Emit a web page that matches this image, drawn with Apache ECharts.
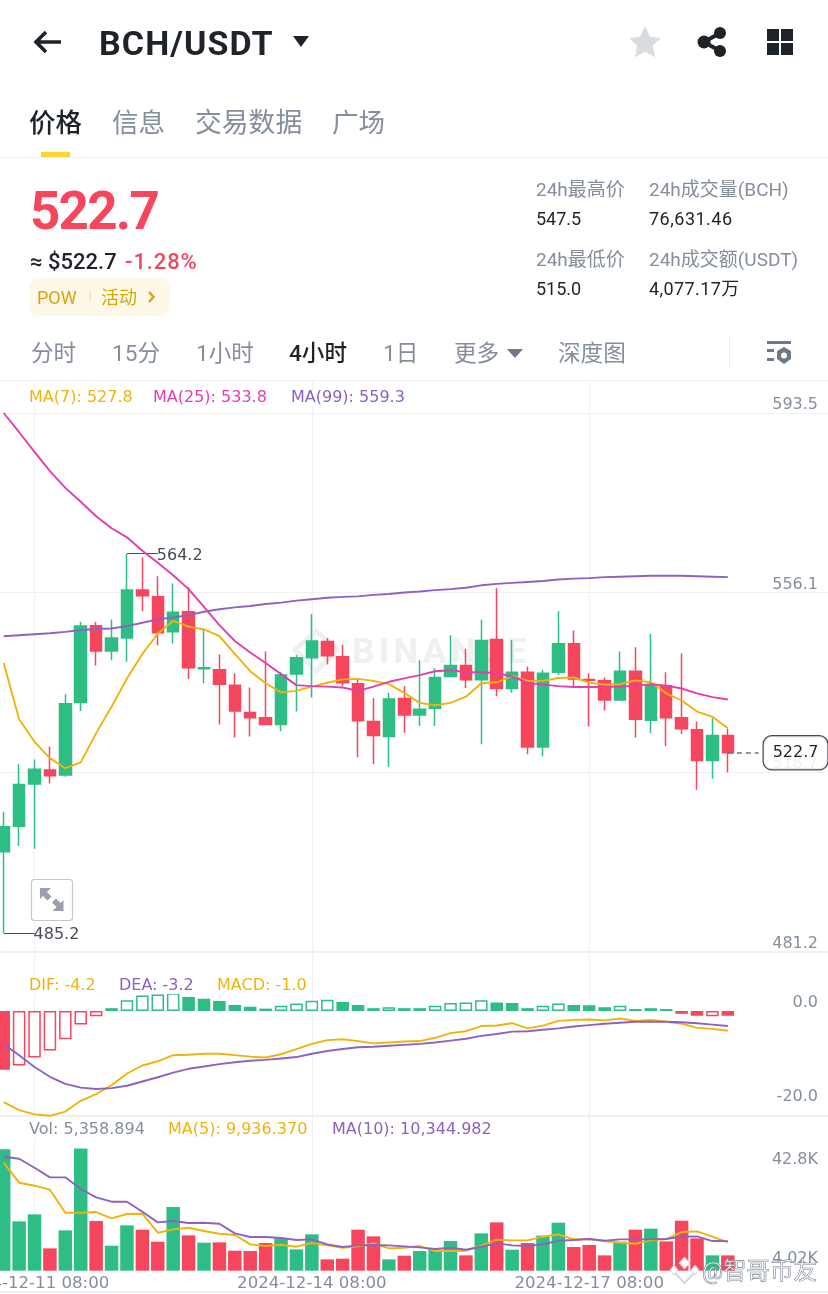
<!DOCTYPE html>
<html>
<head>
<meta charset="utf-8">
<title>BCH/USDT</title>
<script src="https://cdn.jsdelivr.net/npm/echarts@6/dist/echarts.min.js"></script>
<style>
  html, body { margin: 0; padding: 0; background: #fff; }
  #page { position: relative; width: 828px; height: 1294px; overflow: hidden; font-family: Roboto, "Noto Sans CJK SC", sans-serif; color: #1e2329; }
  #chart { position: absolute; left: 0; top: 0; width: 828px; height: 1294px; }
  .t { position: absolute; white-space: nowrap; line-height: 1; transform: translateY(-50%); }
  .cjk { font-family: Roboto, "Noto Sans CJK SC", sans-serif; }
  .gray { color: #848e9c; }
  .rule { position: absolute; left: 0; width: 828px; background: #eef0f4; }
  svg { position: absolute; left: 0; top: 0; }
  .over { z-index: 3; }
</style>
</head>
<body>
<div id="page">
  <!-- underlay: panel rules and the faint exchange mark sit behind the canvas -->
  <div class="rule" style="top:157px;height:1px;background:#f0f1f3"></div>
  <div class="rule" style="top:380px;height:1px"></div>
  <div class="rule" style="top:951px;height:2px"></div>
  <div class="rule" style="top:1115px;height:2px"></div>
  <div class="rule" style="top:1291px;height:2px"></div>
  <svg width="828" height="1294">
    <g fill="none" stroke="#eff0f1" stroke-width="5">
      <path d="M316 631 L337 650 L316 671 L295 650 Z"/>
      <path d="M316 642 L324 650 L316 658 L308 650 Z" fill="#eff0f1"/>
    </g>
  </svg>
  <div class="t" style="left:352px;top:651px;font-size:35px;font-weight:700;letter-spacing:4.4px;color:#eff0f1">BINANCE</div>

  <div id="chart"></div>

  <!-- header -->
  <svg class="over" width="828" height="380">
    <path d="M61 42H37M46 32L36 42L46 52" fill="none" stroke="#1e2329" stroke-width="3.6"/>
    <path d="M293 36H309L301 47Z" fill="#1e2329"/>
    <path d="M645 27L649.6 37.2L660 38.4L652.4 45.6L654.4 56.5L645 51L635.6 56.5L637.6 45.6L630 38.4L640.4 37.2Z" fill="#d8dbe0" stroke="#d8dbe0" stroke-linejoin="round"/>
    <g fill="#1e2329">
      <circle cx="704" cy="42" r="6.5"/><circle cx="720" cy="33" r="6"/><circle cx="720" cy="51" r="6"/>
      <path d="M704 42L720 33M704 42L720 51" stroke="#1e2329" stroke-width="4"/>
      <rect x="767" y="29" width="12" height="12"/><rect x="781" y="29" width="12" height="12"/>
      <rect x="767" y="43" width="12" height="12"/><rect x="781" y="43" width="12" height="12"/>
    </g>
    <rect x="41" y="152" width="29" height="5" fill="#fcd535"/>
    <rect x="29" y="278" width="141" height="38" rx="9" fill="#fdf8e7"/>
    <rect x="89.5" y="291" width="1.5" height="10" fill="#f3e6bb"/>
    <path d="M149 292L153.5 297L149 302" fill="none" stroke="#d9a50d" stroke-width="2.4"/>
    <path d="M507 349H523L515 358Z" fill="#6f7888"/>
    <rect x="729" y="337" width="1" height="31" fill="#eaecef"/>
    <g fill="#6f7888">
      <rect x="767" y="341" width="24" height="3"/>
      <rect x="767" y="349" width="7" height="3"/><rect x="767" y="358" width="7" height="3"/>
      <path d="M784 347L791 351V359L784 364L777 359V351Z"/>
    </g>
    <circle cx="784" cy="355.5" r="3" fill="#fff"/>
  </svg>
  <div class="t over" style="left:99px;top:43px;font-size:34px;font-weight:700;letter-spacing:1.1px">BCH/USDT</div>
  <div class="t cjk over" style="left:29px;top:123px;font-size:26.5px;font-weight:500">价格</div>
  <div class="t cjk over gray" style="left:112px;top:123px;font-size:26.5px">信息</div>
  <div class="t cjk over gray" style="left:195px;top:123px;font-size:26.8px">交易数据</div>
  <div class="t cjk over gray" style="left:332px;top:123px;font-size:26.5px">广场</div>

  <div class="t over" style="left:30px;top:211px;font-size:53px;font-weight:700;letter-spacing:-1.8px;color:#f6465d">522.7</div>
  <div class="t over" style="left:30px;top:262px;font-size:22px;font-weight:500">≈ $522.7</div>
  <div class="t over" style="left:125px;top:262px;font-size:22px;font-weight:500;letter-spacing:.9px;color:#f6465d">-1.28%</div>
  <div class="t over" style="left:37px;top:298px;font-size:18px;color:#d9a50d">POW</div>
  <div class="t cjk over" style="left:101px;top:298px;font-size:18px;color:#d9a50d">活动</div>

  <div class="t cjk over gray" style="left:536px;top:189px;font-size:19px">24h最高价</div>
  <div class="t cjk over gray" style="left:649px;top:189px;font-size:19px">24h成交量(BCH)</div>
  <div class="t over" style="left:536px;top:219px;font-size:18px">547.5</div>
  <div class="t over" style="left:649px;top:219px;font-size:18px;letter-spacing:.5px">76,631.46</div>
  <div class="t cjk over gray" style="left:536px;top:259px;font-size:19px">24h最低价</div>
  <div class="t cjk over gray" style="left:649px;top:259px;font-size:19px">24h成交额(USDT)</div>
  <div class="t over" style="left:536px;top:289px;font-size:18px">515.0</div>
  <div class="t cjk over" style="left:649px;top:289px;font-size:18px;letter-spacing:.4px">4,077.17万</div>

  <div class="t cjk over gray" style="left:31px;top:354px;font-size:22.6px">分时</div>
  <div class="t cjk over gray" style="left:112px;top:354px;font-size:22.6px">15分</div>
  <div class="t cjk over gray" style="left:196px;top:354px;font-size:22.6px">1小时</div>
  <div class="t cjk over" style="left:289px;top:354px;font-size:22.6px;font-weight:500">4小时</div>
  <div class="t cjk over gray" style="left:383px;top:354px;font-size:22.6px">1日</div>
  <div class="t cjk over gray" style="left:454px;top:354px;font-size:22.6px">更多</div>
  <div class="t cjk over gray" style="left:558px;top:354px;font-size:22.6px">深度图</div>

  <!-- expand button -->
  <svg class="over" width="828" height="1294" style="pointer-events:none">
    <rect x="31.5" y="879.5" width="41" height="41" rx="3" fill="#fff" stroke="#c4c8cf" stroke-width="1.2"/>
    <g fill="#9aa1ac">
      <path d="M40 888H51L47 892L51.5 896.5L47.5 900.5L43 896L40 899Z"/>
      <path d="M63.5 911H52.5L56.5 907L52 902.5L56 898.5L60.5 903L63.5 900Z"/>
    </g>
    <!-- repost mark, bottom right -->
    <path d="M674 1272L684.5 1283L695 1272" fill="none" stroke="#d5d8dc" stroke-width="2"/>
    <g fill="#fff" stroke="#e3c9cd" stroke-width="1">
      <path d="M684.5 1257L690 1263L684.5 1269L679 1263Z"/>
      <path d="M674 1265L678 1270L674 1275L670 1270Z"/>
      <path d="M695 1265L699 1270L695 1275L691 1270Z"/>
    </g>
  </svg>
  <div class="t cjk over" style="left:702px;top:1272px;font-size:23.5px;color:rgba(255,255,255,.92);-webkit-text-stroke:.6px #7b8492">@智哥币友</div>
</div>

<script>
const categories = [
  '2024-12-11 00:00', '2024-12-11 04:00', '2024-12-11 08:00', '2024-12-11 12:00', '2024-12-11 16:00', '2024-12-11 20:00',
  '2024-12-12 00:00', '2024-12-12 04:00', '2024-12-12 08:00', '2024-12-12 12:00', '2024-12-12 16:00', '2024-12-12 20:00',
  '2024-12-13 00:00', '2024-12-13 04:00', '2024-12-13 08:00', '2024-12-13 12:00', '2024-12-13 16:00', '2024-12-13 20:00',
  '2024-12-14 00:00', '2024-12-14 04:00', '2024-12-14 08:00', '2024-12-14 12:00', '2024-12-14 16:00', '2024-12-14 20:00',
  '2024-12-15 00:00', '2024-12-15 04:00', '2024-12-15 08:00', '2024-12-15 12:00', '2024-12-15 16:00', '2024-12-15 20:00',
  '2024-12-16 00:00', '2024-12-16 04:00', '2024-12-16 08:00', '2024-12-16 12:00', '2024-12-16 16:00', '2024-12-16 20:00',
  '2024-12-17 00:00', '2024-12-17 04:00', '2024-12-17 08:00', '2024-12-17 12:00', '2024-12-17 16:00', '2024-12-17 20:00',
  '2024-12-18 00:00', '2024-12-18 04:00', '2024-12-18 08:00', '2024-12-18 12:00', '2024-12-18 16:00', '2024-12-18 20:00',
  '2024-12-19 00:00', '2024-12-19 04:00', '2024-12-19 08:00', '2024-12-19 12:00', '2024-12-19 16:00', '2024-12-19 20:00'
];
const dateTicks = ['2024-12-11 08:00', '2024-12-14 08:00', '2024-12-17 08:00'];

// open, close, low, high
const candles = [
  [502.1, 507.3, 485.2, 510.4], [507.4, 516.1, 503.3, 520.3], [516.2, 519.3, 502.7, 521.3], [519.1, 517.9, 516.3, 524.0],
  [518.1, 532.9, 517.7, 534.9], [533.2, 549.1, 531.4, 550.0], [549.2, 543.9, 540.9, 550.0], [543.9, 546.6, 542.0, 550.5],
  [546.6, 556.6, 541.7, 564.2], [556.6, 555.4, 552.2, 563.4], [555.2, 547.7, 545.1, 559.5], [547.9, 552.0, 545.5, 558.0],
  [552.1, 540.4, 538.1, 557.2], [540.2, 540.4, 537.2, 548.3], [540.0, 537.0, 528.6, 543.2], [536.8, 531.4, 525.9, 539.3],
  [531.1, 530.0, 526.1, 536.3], [530.0, 528.6, 528.5, 543.8], [528.6, 538.9, 527.2, 539.5], [539.1, 542.5, 531.3, 543.1],
  [542.5, 546.0, 534.2, 551.6], [545.9, 542.9, 541.1, 546.6], [542.7, 537.3, 536.6, 545.2], [537.1, 529.4, 521.8, 538.2],
  [529.2, 526.3, 520.3, 534.1], [526.1, 533.9, 519.8, 535.2], [534.0, 530.6, 526.9, 536.6], [530.6, 531.8, 528.3, 542.0],
  [532.0, 538.4, 528.3, 540.3], [538.6, 540.9, 538.5, 547.2], [540.9, 537.9, 536.2, 544.4], [537.9, 546.1, 524.5, 550.4],
  [546.3, 536.1, 534.5, 557.0], [536.1, 539.5, 535.2, 546.2], [539.5, 523.9, 522.4, 540.7], [523.9, 539.3, 522.0, 540.0],
  [539.5, 545.4, 538.9, 552.2], [545.4, 538.1, 536.3, 548.2], [538.0, 537.8, 528.2, 539.3], [537.7, 533.7, 531.5, 538.4],
  [533.7, 539.7, 533.7, 543.8], [539.7, 529.7, 525.9, 544.7], [529.5, 536.8, 526.8, 547.5], [536.7, 530.0, 524.1, 539.5],
  [530.0, 527.7, 526.6, 543.4], [527.5, 521.1, 515.0, 529.2], [521.1, 526.3, 517.3, 529.9], [526.3, 522.7, 518.6, 527.7]
];
const ma7 = [541.4, 529.7, 525.0, 521.6, 519.5, 520.7, 526.8, 532.3, 538.2, 543.3, 547.5, 550.2, 549.0, 548.4, 547.0, 543.3,
  539.7, 537.2, 535.3, 535.6, 536.5, 537.3, 538.0, 538.1, 537.7, 537.0, 535.2, 533.1, 532.6, 533.1, 534.4, 537.2,
  537.4, 538.7, 537.7, 537.7, 538.3, 538.4, 537.3, 536.9, 537.0, 537.8, 537.4, 535.1, 533.6, 531.3, 530.2, 527.8];
const ma25 = [593.5, 589.5, 585.4, 581.4, 577.9, 575.0, 572.0, 569.5, 567.6, 564.8, 562.3, 559.7, 556.8, 553.1, 549.3, 546.0,
  543.6, 541.4, 539.1, 536.8, 536.6, 536.5, 536.3, 535.6, 536.5, 537.5, 538.2, 538.9, 539.7, 539.9, 539.5, 539.5,
  539.3, 538.6, 537.3, 536.9, 536.6, 536.4, 536.4, 536.4, 536.5, 536.7, 537.0, 536.7, 536.1, 535.1, 534.3, 533.8];
const ma99 = [547.0, 547.2, 547.4, 547.6, 547.9, 548.3, 548.5, 548.6, 549.1, 549.8, 550.5, 550.9, 551.4, 552.1, 552.6, 553.0,
  553.3, 553.7, 554.0, 554.4, 554.7, 555.0, 555.2, 555.3, 555.6, 555.8, 556.1, 556.3, 556.6, 556.8, 557.1, 557.6,
  557.9, 558.1, 558.3, 558.5, 558.8, 559.0, 559.1, 559.3, 559.4, 559.5, 559.6, 559.6, 559.6, 559.5, 559.4, 559.3];
const priceTicks = [593.5, 556.1, 518.7, 481.2];

const macdBars = [-12.5, -11.6, -9.9, -8.4, -6.0, -2.9, -1.1, 0.6, 2.3, 3.3, 3.5, 3.8, 3.0, 2.6, 2.1, 1.3,
  0.9, 0.5, 1.1, 1.6, 2.2, 2.4, 1.9, 1.3, 0.6, 0.8, 0.6, 0.6, 1.1, 1.7, 1.8, 2.3,
  1.8, 1.7, 0.6, 1.1, 1.6, 1.3, 1.2, 0.8, 1.1, 0.4, 0.6, 0.4, -0.6, -1.0, -1.1, -1.0];
// bars the app draws as outlines
const macdHollow = [1, 2, 3, 4, 5, 6, 7, 8, 9, 10, 11, 18, 19, 20, 21, 25, 27, 28, 29, 30, 31, 35, 36, 40, 46];
const dif = [-19.4, -21.1, -22.0, -22.3, -21.4, -19.1, -17.7, -15.8, -13.3, -11.6, -10.7, -9.4, -9.3, -9.1, -9.1, -9.4,
  -9.7, -9.9, -9.2, -8.1, -7.0, -6.2, -6.0, -6.4, -6.9, -6.7, -6.5, -6.4, -5.7, -4.7, -4.3, -3.2,
  -3.1, -2.6, -3.7, -3.1, -2.1, -1.9, -1.8, -2.0, -1.6, -2.1, -1.9, -2.3, -2.7, -3.6, -3.8, -4.2];
const dea = [-7.0, -9.4, -11.9, -14.0, -15.5, -16.3, -16.6, -16.4, -15.9, -15.0, -14.1, -13.1, -12.3, -11.8, -11.3, -10.9,
  -10.6, -10.4, -10.1, -9.8, -9.1, -8.5, -8.1, -7.7, -7.6, -7.4, -7.2, -7.0, -6.7, -6.3, -5.9, -5.3,
  -4.9, -4.4, -4.3, -4.0, -3.7, -3.3, -3.0, -2.7, -2.5, -2.3, -2.3, -2.3, -2.4, -2.6, -2.9, -3.2];
const macdTicks = [0, -20];

const volume = [42500, 17267, 19717, 7817, 14117, 42800, 17383, 8750, 15867, 14350, 10150, 22283, 12367, 9800, 9917, 7000,
  6883, 9683, 11317, 7467, 12717, 3967, 4200, 14350, 12017, 3967, 5250, 6883, 7350, 10383, 5367, 13067,
  16917, 7350, 9683, 12250, 16800, 8283, 8983, 5367, 10150, 14350, 14700, 10267, 17500, 11317, 5367, 5359];
const volMa5 = [37800, 30800, 29750, 28350, 20300, 20300, 20533, 18317, 19833, 19950, 13300, 14467, 15050, 13883, 12950, 12483,
  9217, 8633, 9100, 8400, 9683, 8867, 8050, 8517, 9567, 7817, 8050, 8633, 6883, 6883, 7000, 8750,
  10850, 10617, 10617, 11900, 12717, 10967, 11083, 10383, 9800, 9450, 10617, 11083, 13533, 13767, 11900, 9936];
const volMa10 = [39900, 39200, 36050, 32667, 32667, 28583, 25667, 24150, 24150, 20650, 16917, 17383, 16683, 16800, 16450, 13067,
  11783, 11783, 11433, 10733, 10967, 9217, 8283, 8867, 8983, 8867, 8517, 8167, 7583, 8050, 7350, 8400,
  9567, 8867, 8633, 9217, 10500, 10733, 11083, 10500, 10967, 10967, 10967, 11083, 11900, 12017, 10383, 10345];
const volTicks = [4020, 42800];

const priceReadout = ['MA(7): 527.8', 'MA(25): 533.8', 'MA(99): 559.3'];
const macdReadout = ['DIF: -4.2', 'DEA: -3.2', 'MACD: -1.0'];
const volReadout = ['Vol: 5,358.894', 'MA(5): 9,936.370', 'MA(10): 10,344.982'];

const GREEN = '#2ebd85', RED = '#f6465d', YELLOW = '#efb30c', PINK = '#e23fae', PURPLE = '#8c62c4';
const GRID_COLOR = '#f0f1f5', AXIS_TEXT = '#848e9c', FONT = '"DejaVu Sans", sans-serif', FONT_SIZE = 16;

const chart = echarts.init(document.getElementById('chart'), null, { renderer: 'canvas' });

const isDateTick = (i) => dateTicks.indexOf(categories[i]) >= 0;

function xAxis(gridIndex, showLabel) {
  return {
    type: 'category', gridIndex, data: categories, boundaryGap: true,
    axisLine: { show: false }, axisTick: { show: false },
    axisLabel: { show: showLabel, interval: (i) => isDateTick(i), color: AXIS_TEXT, fontFamily: FONT, fontSize: 16.6, margin: 4, hideOverlap: false },
    splitLine: { show: true, alignWithLabel: true, interval: (i) => isDateTick(i), lineStyle: { color: GRID_COLOR, width: 1 } }
  };
}

function yAxis(gridIndex, min, max, ticks, extra) {
  return Object.assign({
    type: 'value', gridIndex, position: 'right', min, max, scale: true,
    axisLine: { show: false },
    axisTick: { show: false, customValues: ticks },
    axisLabel: { inside: true, customValues: ticks, color: AXIS_TEXT, fontFamily: FONT, fontSize: FONT_SIZE, margin: 10, verticalAlign: 'bottom' },
    splitLine: { show: false }
  }, extra);
}

function line(name, data, color, xAxisIndex, z) {
  return {
    name, type: 'line', data, xAxisIndex, yAxisIndex: xAxisIndex, showSymbol: false, silent: true,
    lineStyle: { color, width: 1.9 }, itemStyle: { color }, z: z || 5
  };
}

function readout(items, colors, xs, y) {
  return items.map((text, i) => ({
    type: 'text', left: xs[i], top: y - 6, silent: true, z: 50,
    style: { text, fill: colors[i], font: FONT_SIZE + 'px ' + FONT, backgroundColor: '#fff' }
  }));
}

const extremeStyle = { color: '#474d57', width: 1, type: 'solid' };
const extremeLabel = { show: true, position: 'end', distance: 1, offset: [-2, 2], color: '#474d57', fontFamily: FONT, fontSize: FONT_SIZE };

chart.setOption({
  animation: false,
  backgroundColor: 'transparent',
  // outerBoundsMode off: the first date label has to run off the left edge, as in the app
  grid: [
    { left: -4, width: 832, top: 381, height: 571, outerBoundsMode: 'none' },
    { left: -4, width: 832, top: 952, height: 164, outerBoundsMode: 'none' },
    { left: -4, width: 832, top: 1116, height: 154.7, outerBoundsMode: 'none' }
  ],
  xAxis: [xAxis(0, false), xAxis(1, false), xAxis(2, true)],
  yAxis: [
    yAxis(0, 481.2, 600.17, priceTicks, { splitLine: { show: true, lineStyle: { color: GRID_COLOR, width: 1 } } }),
    yAxis(1, -22.34, 12.55, macdTicks, {}),
    yAxis(2, 0, 54145, volTicks, {})
  ],
  graphic: [
    ...readout(priceReadout, [YELLOW, PINK, PURPLE], [29, 153, 291], 396),
    ...readout(macdReadout, [YELLOW, PURPLE, YELLOW], [29, 119, 217], 984),
    ...readout(volReadout, [AXIS_TEXT, YELLOW, PURPLE], [29, 168, 332], 1128)
  ],
  series: [
    {
      type: 'candlestick', data: candles, xAxisIndex: 0, yAxisIndex: 0, barWidth: 12, silent: true, z: 3,
      itemStyle: { color: GREEN, color0: RED, borderColor: GREEN, borderColor0: RED, borderWidth: 1.5 },
      markLine: {
        silent: true, animation: false, symbol: ['none', 'none'], z: 6,
        data: [
          [{ coord: [categories[8], 564.2], lineStyle: extremeStyle, label: Object.assign({ formatter: '564.2' }, extremeLabel) }, { coord: [categories[10], 564.2] }],
          [{ coord: [categories[0], 485.2], lineStyle: extremeStyle, label: Object.assign({ formatter: '485.2' }, extremeLabel) }, { coord: [categories[2], 485.2] }],
          [{
            coord: [categories[47], 522.7], lineStyle: { color: '#6b7280', width: 1.5, type: [5, 4] },
            label: {
              show: true, position: 'end', distance: 5, formatter: '522.7', color: '#1e2329', fontFamily: FONT, fontSize: FONT_SIZE,
              backgroundColor: 'rgba(255,255,255,0.88)', borderColor: '#474d57', borderWidth: 1.2, borderRadius: 8, padding: [9, 9, 8, 9]
            }
          }, { coord: [categories[49], 522.7] }]
        ]
      }
    },
    line('MA7', ma7, YELLOW, 0),
    line('MA25', ma25, PINK, 0, 6),
    line('MA99', ma99, PURPLE, 0),
    {
      type: 'bar', xAxisIndex: 1, yAxisIndex: 1, barWidth: 12.5, silent: true, z: 3,
      data: macdBars.map((value, i) => {
        const color = value >= 0 ? GREEN : RED;
        return { value, itemStyle: { color: macdHollow.indexOf(i) >= 0 ? '#fff' : color, borderColor: color, borderWidth: 1.5 } };
      })
    },
    line('DIF', dif, YELLOW, 1),
    line('DEA', dea, PURPLE, 1),
    {
      type: 'bar', xAxisIndex: 2, yAxisIndex: 2, barWidth: 13.5, silent: true, z: 3,
      data: volume.map((value, i) => ({ value, itemStyle: { color: candles[i][1] >= candles[i][0] ? GREEN : RED } }))
    },
    line('VOL5', volMa5, YELLOW, 2),
    line('VOL10', volMa10, PURPLE, 2)
  ]
});

// Axis labels need their K suffix and one decimal; a second option pass keeps the builders above generic.
chart.setOption({
  yAxis: [
    { axisLabel: { formatter: (v) => v.toFixed(1) } },
    { axisLabel: { formatter: (v) => v.toFixed(1) } },
    {
      axisLabel: {
        verticalAlign: 'middle',
        formatter: (v) => (v > 10000 ? '{hi|' + (v / 1000).toFixed(1) + 'K}' : (v / 1000).toFixed(2) + 'K'),
        rich: { hi: { padding: [22, 0, 0, 0], color: AXIS_TEXT, fontFamily: FONT, fontSize: FONT_SIZE } }
      }
    }
  ]
});
</script>
</body>
</html>
